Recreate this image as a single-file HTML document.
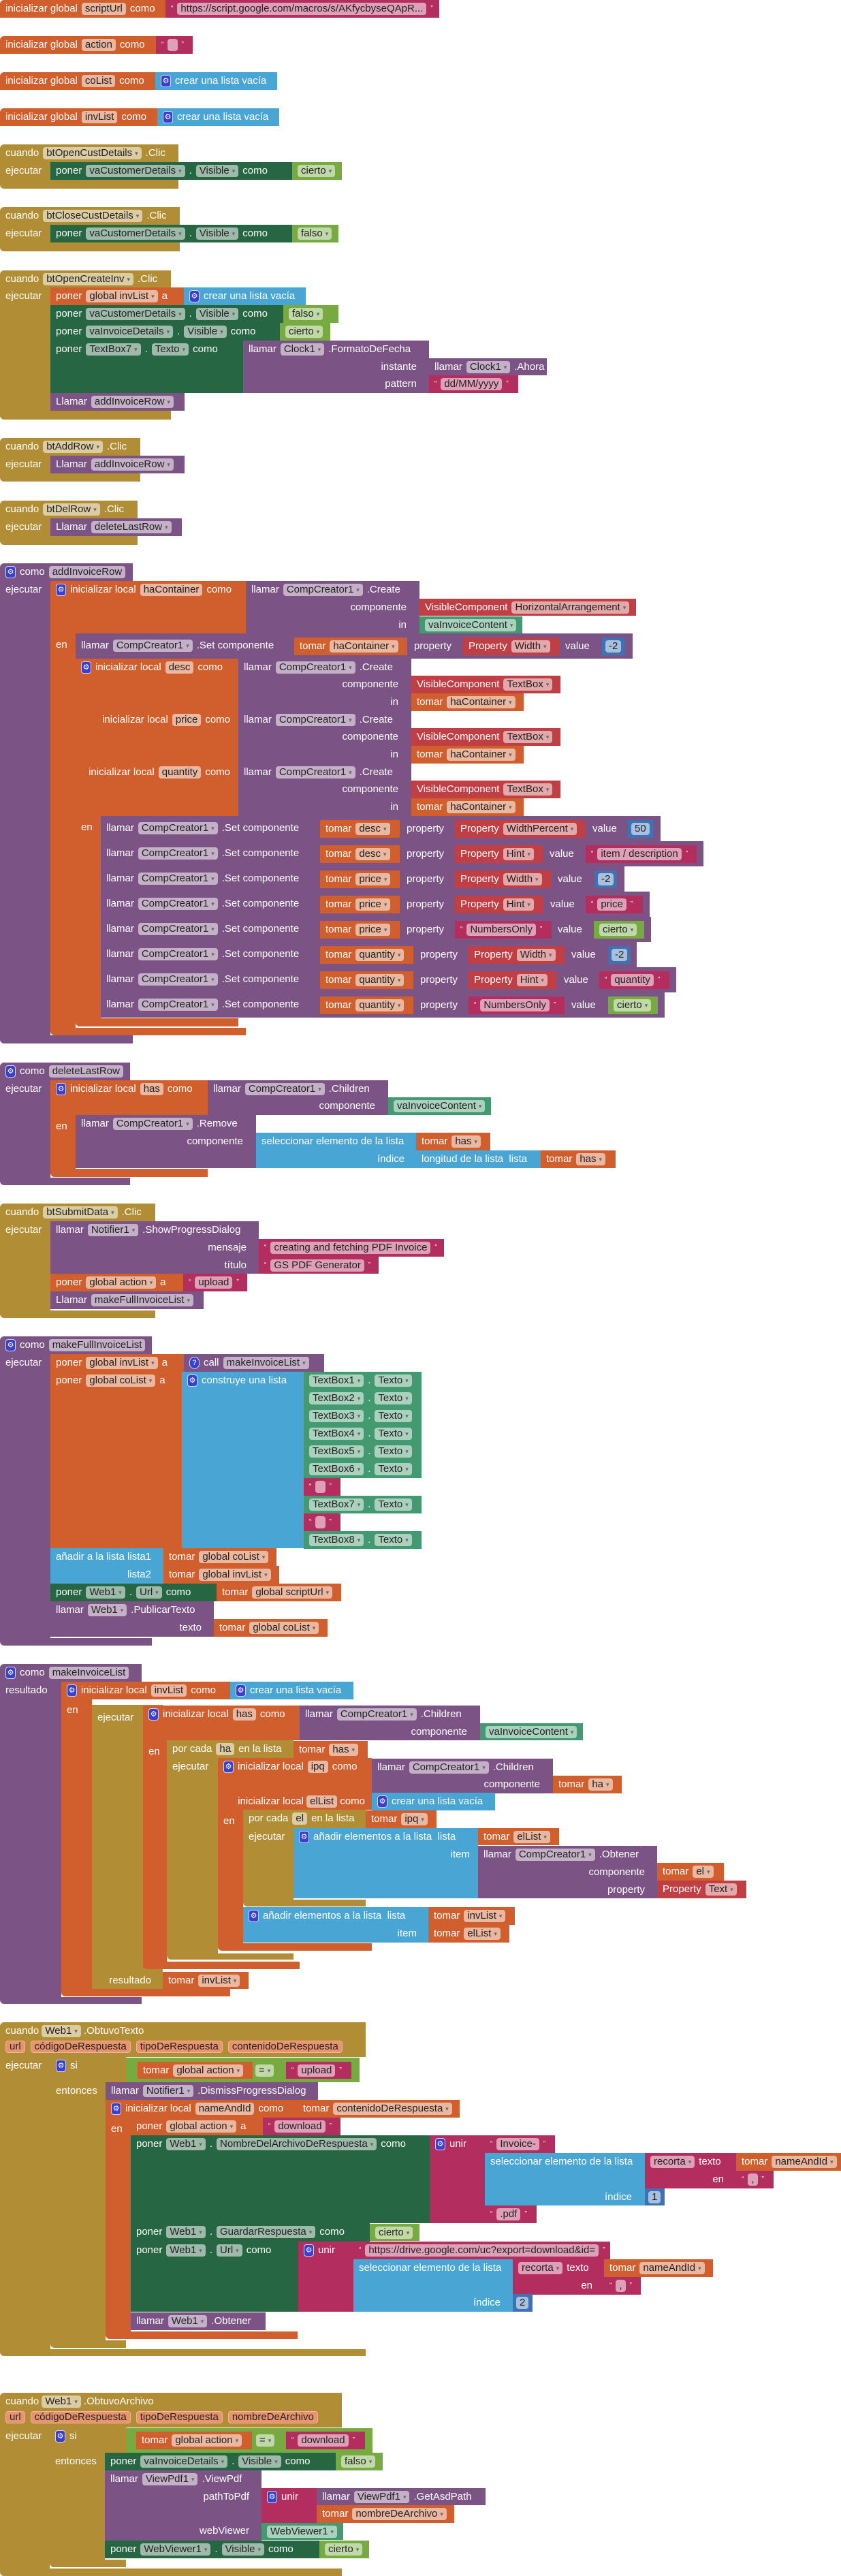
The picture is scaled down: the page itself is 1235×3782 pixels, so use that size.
<!DOCTYPE html>
<html><head><meta charset="utf-8">
<style>
body{margin:0;width:1235px;height:3782px;background:#fff;position:relative;overflow:hidden;font-family:"Liberation Sans",sans-serif}
.b{position:absolute;box-sizing:border-box;display:flex;align-items:flex-start;padding:4px 0 0 8px;gap:6px;white-space:nowrap;overflow:hidden;color:#fff;font:15px/18px "Liberation Sans",sans-serif}
.r37{padding-top:9px}
.jr{justify-content:flex-end;padding-right:12px}
.tx{position:absolute;color:#fff;font:15px/26px "Liberation Sans",sans-serif;text-align:right;white-space:nowrap;width:150px}
.tl{position:absolute;color:#fff;font:15px/26px "Liberation Sans",sans-serif;white-space:nowrap}
i{font-style:normal;background:rgba(255,255,255,.55);color:#222;border-radius:4px;padding:0 5px;display:inline-block;height:18px}
i em{font-style:normal;font-size:9px;color:#666;margin-left:4px;vertical-align:top}
i.op{background:#E8946F;color:#222;border:1px solid #f0b49a;height:16px;line-height:16px}
.ic{display:inline-block;width:15px;height:18px;border-radius:4px;background:#3A3FD0;color:#fff;font-size:11px;line-height:16px;text-align:center;border:1px solid #cfd4ff;box-sizing:border-box}
.q{font-size:10px;vertical-align:top}
.o{background:#D05F2D}.m{background:#B32D5E}.bl{background:#49A6D4}.g{background:#B18E35}
.dg{background:#266643}.lg{background:#77AB41}.pu{background:#7C5385}.r{background:#BF3F44}
.t{background:#439970}.mb{background:#3F71B5}
.rb{border-radius:0 0 0 6px}.rt{border-radius:6px 0 0 0}
</style></head><body>

<!-- globals -->
<div class="b o rt" style="left:0;top:0;width:243px;height:26px">inicializar global <i>scriptUrl</i> como</div>
<div class="b m" style="left:243px;top:0;width:402px;height:26px"><span class="q">“</span><i>https://script.google.com/macros/s/AKfycbyseQApR...</i><span class="q">”</span></div>
<div class="b o rt" style="left:0;top:53px;width:229px;height:26px">inicializar global <i>action</i> como</div>
<div class="b m" style="left:229px;top:53px;width:54px;height:26px"><span class="q">“</span><i>&nbsp;</i><span class="q">”</span></div>
<div class="b o rt" style="left:0;top:106px;width:228px;height:26px">inicializar global <i>coList</i> como</div>
<div class="b bl" style="left:228px;top:106px;width:179px;height:26px"><span class="ic">⚙</span>crear una lista vacía</div>
<div class="b o rt" style="left:0;top:159px;width:231px;height:26px">inicializar global <i>invList</i> como</div>
<div class="b bl" style="left:231px;top:159px;width:179px;height:26px"><span class="ic">⚙</span>crear una lista vacía</div>

<!-- btOpenCustDetails -->
<div class="b g rt" style="left:0;top:212px;width:262px;height:26px">cuando <i>btOpenCustDetails<em>▾</em></i> .Clic</div>
<div class="b g" style="left:0;top:238px;width:74px;height:26px">ejecutar</div>
<div class="b g rb" style="left:0;top:264px;width:262px;height:13px"></div>
<div class="b dg" style="left:74px;top:238px;width:355px;height:26px">poner <i>vaCustomerDetails<em>▾</em></i> . <i>Visible<em>▾</em></i> como</div>
<div class="b lg" style="left:429px;top:238px;width:73px;height:26px"><i>cierto<em>▾</em></i></div>

<!-- btCloseCustDetails -->
<div class="b g rt" style="left:0;top:304px;width:264px;height:26px">cuando <i>btCloseCustDetails<em>▾</em></i> .Clic</div>
<div class="b g" style="left:0;top:330px;width:74px;height:26px">ejecutar</div>
<div class="b g rb" style="left:0;top:356px;width:264px;height:13px"></div>
<div class="b dg" style="left:74px;top:330px;width:355px;height:26px">poner <i>vaCustomerDetails<em>▾</em></i> . <i>Visible<em>▾</em></i> como</div>
<div class="b lg" style="left:429px;top:330px;width:68px;height:26px"><i>falso<em>▾</em></i></div>

<!-- btOpenCreateInv -->
<div class="b g rt" style="left:0;top:397px;width:251px;height:25px">cuando <i>btOpenCreateInv<em>▾</em></i> .Clic</div>
<div class="b g" style="left:0;top:422px;width:74px;height:181px">ejecutar</div>
<div class="b g rb" style="left:0;top:603px;width:251px;height:13px"></div>
<div class="b o" style="left:74px;top:422px;width:196px;height:26px">poner <i>global invList<em>▾</em></i> a</div>
<div class="b bl" style="left:270px;top:422px;width:179px;height:26px"><span class="ic">⚙</span>crear una lista vacía</div>
<div class="b dg" style="left:74px;top:448px;width:342px;height:26px">poner <i>vaCustomerDetails<em>▾</em></i> . <i>Visible<em>▾</em></i> como</div>
<div class="b lg" style="left:416px;top:448px;width:81px;height:26px"><i>falso<em>▾</em></i></div>
<div class="b dg" style="left:74px;top:474px;width:337px;height:26px">poner <i>vaInvoiceDetails<em>▾</em></i> . <i>Visible<em>▾</em></i> como</div>
<div class="b lg" style="left:411px;top:474px;width:74px;height:26px"><i>cierto<em>▾</em></i></div>
<div class="b dg" style="left:74px;top:500px;width:283px;height:77px">poner <i>TextBox7<em>▾</em></i> . <i>Texto<em>▾</em></i> como</div>
<div class="b pu" style="left:357px;top:500px;width:273px;height:77px">llamar <i>Clock1<em>▾</em></i> .FormatoDeFecha</div>
<div class="tx" style="left:462px;top:526px">instante</div>
<div class="tx" style="left:462px;top:551px">pattern</div>
<div class="b pu" style="left:630px;top:526px;width:173px;height:25px">llamar <i>Clock1<em>▾</em></i> .Ahora</div>
<div class="b m" style="left:630px;top:551px;width:131px;height:26px"><span class="q">“</span><i>dd/MM/yyyy</i><span class="q">”</span></div>
<div class="b pu" style="left:74px;top:577px;width:197px;height:26px">Llamar <i>addInvoiceRow<em>▾</em></i></div>

<!-- btAddRow -->
<div class="b g rt" style="left:0;top:643px;width:206px;height:26px">cuando <i>btAddRow<em>▾</em></i> .Clic</div>
<div class="b g" style="left:0;top:669px;width:74px;height:26px">ejecutar</div>
<div class="b g rb" style="left:0;top:695px;width:206px;height:12px"></div>
<div class="b pu" style="left:74px;top:669px;width:197px;height:26px">Llamar <i>addInvoiceRow<em>▾</em></i></div>

<!-- btDelRow -->
<div class="b g rt" style="left:0;top:735px;width:202px;height:26px">cuando <i>btDelRow<em>▾</em></i> .Clic</div>
<div class="b g" style="left:0;top:761px;width:74px;height:26px">ejecutar</div>
<div class="b g rb" style="left:0;top:787px;width:202px;height:13px"></div>
<div class="b pu" style="left:74px;top:761px;width:193px;height:26px">Llamar <i>deleteLastRow<em>▾</em></i></div>

<!-- addInvoiceRow -->
<div class="b pu rt" style="left:0;top:827px;width:195px;height:26px"><span class="ic">⚙</span>como <i>addInvoiceRow</i></div>
<div class="b pu" style="left:0;top:853px;width:74px;height:667px">ejecutar</div>
<div class="b pu rb" style="left:0;top:1520px;width:195px;height:12px"></div>
<div class="b o" style="left:74px;top:853px;width:287px;height:77px"><span class="ic">⚙</span>inicializar local <i>haContainer</i> como</div>
<div class="b o" style="left:74px;top:930px;width:37px;height:579px;padding-top:8px">en</div>
<div class="b o rb" style="left:74px;top:1509px;width:287px;height:11px"></div>
<div class="b pu" style="left:361px;top:853px;width:255px;height:77px">llamar <i>CompCreator1<em>▾</em></i> .Create</div>
<div class="tx" style="left:447px;top:879px">componente</div>
<div class="tx" style="left:447px;top:905px">in</div>
<div class="b r" style="left:616px;top:879px;width:318px;height:25px">VisibleComponent <i>HorizontalArrangement<em>▾</em></i></div>
<div class="b t" style="left:616px;top:905px;width:151px;height:25px"><i>vaInvoiceContent<em>▾</em></i></div>
<div class="b pu r37" style="left:111px;top:930px;width:818px;height:37px">llamar <i>CompCreator1<em>▾</em></i> .Set componente</div>
<div class="b o" style="left:432px;top:936px;width:166px;height:26px">tomar <i>haContainer<em>▾</em></i></div>
<div class="tl" style="left:608px;top:936px">property</div>
<div class="b r" style="left:680px;top:936px;width:141px;height:26px">Property <i>Width<em>▾</em></i></div>
<div class="tl" style="left:830px;top:936px">value</div>
<div class="b mb" style="left:884px;top:936px;width:33px;height:26px;padding-left:5px"><i>-2</i></div>

<div class="b o" style="left:111px;top:967px;width:239px;height:77px"><span class="ic">⚙</span>inicializar local <i>desc</i> como</div>
<div class="b o jr" style="left:111px;top:1044px;width:239px;height:77px">inicializar local <i>price</i> como</div>
<div class="b o jr" style="left:111px;top:1121px;width:239px;height:77px">inicializar local <i>quantity</i> como</div>
<div class="b o" style="left:111px;top:1198px;width:37px;height:297px;padding-top:8px">en</div>
<div class="b o rb" style="left:111px;top:1495px;width:239px;height:12px"></div>

<div class="b pu" style="left:350px;top:967px;width:254px;height:77px">llamar <i>CompCreator1<em>▾</em></i> .Create</div>
<div class="tx" style="left:435px;top:992px">componente</div><div class="tx" style="left:435px;top:1018px">in</div>
<div class="b r" style="left:604px;top:992px;width:219px;height:26px">VisibleComponent <i>TextBox<em>▾</em></i></div>
<div class="b o" style="left:604px;top:1018px;width:165px;height:26px">tomar <i>haContainer<em>▾</em></i></div>
<div class="b pu" style="left:350px;top:1044px;width:254px;height:77px">llamar <i>CompCreator1<em>▾</em></i> .Create</div>
<div class="tx" style="left:435px;top:1069px">componente</div><div class="tx" style="left:435px;top:1095px">in</div>
<div class="b r" style="left:604px;top:1069px;width:219px;height:26px">VisibleComponent <i>TextBox<em>▾</em></i></div>
<div class="b o" style="left:604px;top:1095px;width:165px;height:26px">tomar <i>haContainer<em>▾</em></i></div>
<div class="b pu" style="left:350px;top:1121px;width:254px;height:77px">llamar <i>CompCreator1<em>▾</em></i> .Create</div>
<div class="tx" style="left:435px;top:1146px">componente</div><div class="tx" style="left:435px;top:1172px">in</div>
<div class="b r" style="left:604px;top:1146px;width:219px;height:26px">VisibleComponent <i>TextBox<em>▾</em></i></div>
<div class="b o" style="left:604px;top:1172px;width:165px;height:26px">tomar <i>haContainer<em>▾</em></i></div>

<!-- set rows -->
<div class="b pu r37" style="left:148px;top:1198px;width:822px;height:37px">llamar <i>CompCreator1<em>▾</em></i> .Set componente</div>
<div class="b o" style="left:470px;top:1204px;width:117px;height:26px">tomar <i>desc<em>▾</em></i></div>
<div class="tl" style="left:597px;top:1204px">property</div>
<div class="b r" style="left:668px;top:1204px;width:191px;height:26px">Property <i>WidthPercent<em>▾</em></i></div>
<div class="tl" style="left:870px;top:1204px">value</div>
<div class="b mb" style="left:922px;top:1204px;width:37px;height:26px;padding-left:5px"><i>50</i></div>

<div class="b pu r37" style="left:148px;top:1235px;width:885px;height:37px">llamar <i>CompCreator1<em>▾</em></i> .Set componente</div>
<div class="b o" style="left:470px;top:1241px;width:117px;height:26px">tomar <i>desc<em>▾</em></i></div>
<div class="tl" style="left:597px;top:1241px">property</div>
<div class="b r" style="left:668px;top:1241px;width:129px;height:26px">Property <i>Hint<em>▾</em></i></div>
<div class="tl" style="left:807px;top:1241px">value</div>
<div class="b m" style="left:860px;top:1241px;width:163px;height:26px"><span class="q">“</span><i>item / description</i><span class="q">”</span></div>

<div class="b pu r37" style="left:148px;top:1272px;width:769px;height:37px">llamar <i>CompCreator1<em>▾</em></i> .Set componente</div>
<div class="b o" style="left:470px;top:1278px;width:117px;height:26px">tomar <i>price<em>▾</em></i></div>
<div class="tl" style="left:597px;top:1278px">property</div>
<div class="b r" style="left:668px;top:1278px;width:142px;height:26px">Property <i>Width<em>▾</em></i></div>
<div class="tl" style="left:819px;top:1278px">value</div>
<div class="b mb" style="left:873px;top:1278px;width:33px;height:26px;padding-left:5px"><i>-2</i></div>

<div class="b pu r37" style="left:148px;top:1309px;width:806px;height:37px">llamar <i>CompCreator1<em>▾</em></i> .Set componente</div>
<div class="b o" style="left:470px;top:1315px;width:117px;height:26px">tomar <i>price<em>▾</em></i></div>
<div class="tl" style="left:597px;top:1315px">property</div>
<div class="b r" style="left:668px;top:1315px;width:130px;height:26px">Property <i>Hint<em>▾</em></i></div>
<div class="tl" style="left:808px;top:1315px">value</div>
<div class="b m" style="left:860px;top:1315px;width:84px;height:26px"><span class="q">“</span><i>price</i><span class="q">”</span></div>

<div class="b pu r37" style="left:148px;top:1346px;width:808px;height:37px">llamar <i>CompCreator1<em>▾</em></i> .Set componente</div>
<div class="b o" style="left:470px;top:1352px;width:117px;height:26px">tomar <i>price<em>▾</em></i></div>
<div class="tl" style="left:597px;top:1352px">property</div>
<div class="b m" style="left:668px;top:1352px;width:142px;height:26px"><span class="q">“</span><i>NumbersOnly</i><span class="q">”</span></div>
<div class="tl" style="left:819px;top:1352px">value</div>
<div class="b lg" style="left:872px;top:1352px;width:74px;height:26px"><i>cierto<em>▾</em></i></div>

<div class="b pu r37" style="left:148px;top:1383px;width:787px;height:37px">llamar <i>CompCreator1<em>▾</em></i> .Set componente</div>
<div class="b o" style="left:470px;top:1389px;width:137px;height:26px">tomar <i>quantity<em>▾</em></i></div>
<div class="tl" style="left:617px;top:1389px">property</div>
<div class="b r" style="left:688px;top:1389px;width:141px;height:26px">Property <i>Width<em>▾</em></i></div>
<div class="tl" style="left:839px;top:1389px">value</div>
<div class="b mb" style="left:893px;top:1389px;width:33px;height:26px;padding-left:5px"><i>-2</i></div>

<div class="b pu r37" style="left:148px;top:1420px;width:845px;height:37px">llamar <i>CompCreator1<em>▾</em></i> .Set componente</div>
<div class="b o" style="left:470px;top:1426px;width:137px;height:26px">tomar <i>quantity<em>▾</em></i></div>
<div class="tl" style="left:617px;top:1426px">property</div>
<div class="b r" style="left:688px;top:1426px;width:130px;height:26px">Property <i>Hint<em>▾</em></i></div>
<div class="tl" style="left:828px;top:1426px">value</div>
<div class="b m" style="left:880px;top:1426px;width:103px;height:26px"><span class="q">“</span><i>quantity</i><span class="q">”</span></div>

<div class="b pu r37" style="left:148px;top:1457px;width:828px;height:37px">llamar <i>CompCreator1<em>▾</em></i> .Set componente</div>
<div class="b o" style="left:470px;top:1463px;width:137px;height:26px">tomar <i>quantity<em>▾</em></i></div>
<div class="tl" style="left:617px;top:1463px">property</div>
<div class="b m" style="left:688px;top:1463px;width:141px;height:26px"><span class="q">“</span><i>NumbersOnly</i><span class="q">”</span></div>
<div class="tl" style="left:839px;top:1463px">value</div>
<div class="b lg" style="left:893px;top:1463px;width:73px;height:26px"><i>cierto<em>▾</em></i></div>

<!-- deleteLastRow -->
<div class="b pu rt" style="left:0;top:1560px;width:191px;height:26px"><span class="ic">⚙</span>como <i>deleteLastRow</i></div>
<div class="b pu" style="left:0;top:1586px;width:74px;height:143px">ejecutar</div>
<div class="b pu rb" style="left:0;top:1729px;width:191px;height:11px"></div>
<div class="b o" style="left:74px;top:1586px;width:231px;height:51px"><span class="ic">⚙</span>inicializar local <i>has</i> como</div>
<div class="b o" style="left:74px;top:1637px;width:37px;height:79px;padding-top:8px">en</div>
<div class="b o rb" style="left:74px;top:1716px;width:231px;height:12px"></div>
<div class="b pu" style="left:305px;top:1586px;width:265px;height:51px">llamar <i>CompCreator1<em>▾</em></i> .Children</div>
<div class="tx" style="left:401px;top:1611px">componente</div>
<div class="b t" style="left:570px;top:1611px;width:151px;height:26px"><i>vaInvoiceContent<em>▾</em></i></div>
<div class="b pu" style="left:111px;top:1637px;width:265px;height:78px">llamar <i>CompCreator1<em>▾</em></i> .Remove</div>
<div class="tx" style="left:207px;top:1663px">componente</div>
<div class="b bl" style="left:376px;top:1663px;width:235px;height:52px">seleccionar elemento de la lista</div>
<div class="tx" style="left:444px;top:1689px">índice</div>
<div class="b o" style="left:611px;top:1663px;width:109px;height:26px">tomar <i>has<em>▾</em></i></div>
<div class="b bl" style="left:611px;top:1689px;width:183px;height:26px">longitud de la lista &nbsp;lista</div>
<div class="b o" style="left:794px;top:1689px;width:110px;height:26px">tomar <i>has<em>▾</em></i></div>

<!-- btSubmitData -->
<div class="b g rt" style="left:0;top:1767px;width:228px;height:26px">cuando <i>btSubmitData<em>▾</em></i> .Clic</div>
<div class="b g" style="left:0;top:1793px;width:74px;height:131px">ejecutar</div>
<div class="b g rb" style="left:0;top:1924px;width:228px;height:11px"></div>
<div class="b pu" style="left:74px;top:1793px;width:306px;height:77px">llamar <i>Notifier1<em>▾</em></i> .ShowProgressDialog</div>
<div class="tx" style="left:212px;top:1819px">mensaje</div>
<div class="tx" style="left:212px;top:1845px">título</div>
<div class="b m" style="left:380px;top:1819px;width:272px;height:26px"><span class="q">“</span><i>creating and fetching PDF Invoice</i><span class="q">”</span></div>
<div class="b m" style="left:380px;top:1845px;width:176px;height:25px"><span class="q">“</span><i>GS PDF Generator</i><span class="q">”</span></div>
<div class="b o" style="left:74px;top:1870px;width:195px;height:26px">poner <i>global action<em>▾</em></i> a</div>
<div class="b m" style="left:269px;top:1870px;width:94px;height:26px"><span class="q">“</span><i>upload</i><span class="q">”</span></div>
<div class="b pu" style="left:74px;top:1896px;width:225px;height:26px">Llamar <i>makeFullInvoiceList<em>▾</em></i></div>

<!-- makeFullInvoiceList -->
<div class="b pu rt" style="left:0;top:1962px;width:223px;height:26px"><span class="ic">⚙</span>como <i>makeFullInvoiceList</i></div>
<div class="b pu" style="left:0;top:1988px;width:74px;height:417px">ejecutar</div>
<div class="b pu rb" style="left:0;top:2405px;width:223px;height:11px"></div>
<div class="b o" style="left:74px;top:1988px;width:196px;height:26px">poner <i>global invList<em>▾</em></i> a</div>
<div class="b pu" style="left:270px;top:1988px;width:206px;height:26px"><span class="ic" style="border-radius:9px">?</span>call <i>makeInvoiceList<em>▾</em></i></div>
<div class="b o" style="left:74px;top:2014px;width:193px;height:259px">poner <i>global coList<em>▾</em></i> a</div>
<div class="b bl" style="left:267px;top:2014px;width:179px;height:259px"><span class="ic">⚙</span>construye una lista</div>
<div class="b t" style="left:446px;top:2014px;width:173px;height:26px"><i>TextBox1<em>▾</em></i> . <i>Texto<em>▾</em></i></div>
<div class="b t" style="left:446px;top:2040px;width:173px;height:26px"><i>TextBox2<em>▾</em></i> . <i>Texto<em>▾</em></i></div>
<div class="b t" style="left:446px;top:2066px;width:173px;height:26px"><i>TextBox3<em>▾</em></i> . <i>Texto<em>▾</em></i></div>
<div class="b t" style="left:446px;top:2092px;width:173px;height:26px"><i>TextBox4<em>▾</em></i> . <i>Texto<em>▾</em></i></div>
<div class="b t" style="left:446px;top:2118px;width:173px;height:26px"><i>TextBox5<em>▾</em></i> . <i>Texto<em>▾</em></i></div>
<div class="b t" style="left:446px;top:2144px;width:173px;height:26px"><i>TextBox6<em>▾</em></i> . <i>Texto<em>▾</em></i></div>
<div class="b m" style="left:446px;top:2170px;width:54px;height:26px"><span class="q">“</span><i>&nbsp;</i><span class="q">”</span></div>
<div class="b t" style="left:446px;top:2196px;width:173px;height:26px"><i>TextBox7<em>▾</em></i> . <i>Texto<em>▾</em></i></div>
<div class="b m" style="left:446px;top:2222px;width:54px;height:26px"><span class="q">“</span><i>&nbsp;</i><span class="q">”</span></div>
<div class="b t" style="left:446px;top:2248px;width:173px;height:26px"><i>TextBox8<em>▾</em></i> . <i>Texto<em>▾</em></i></div>
<div class="b bl" style="left:74px;top:2273px;width:166px;height:52px">añadir a la lista lista1</div>
<div class="tx" style="left:72px;top:2299px">lista2</div>
<div class="b o" style="left:240px;top:2273px;width:166px;height:26px">tomar <i>global coList<em>▾</em></i></div>
<div class="b o" style="left:240px;top:2299px;width:170px;height:26px">tomar <i>global invList<em>▾</em></i></div>
<div class="b dg" style="left:74px;top:2325px;width:244px;height:26px">poner <i>Web1<em>▾</em></i> . <i>Url<em>▾</em></i> como</div>
<div class="b o" style="left:318px;top:2325px;width:183px;height:26px">tomar <i>global scriptUrl<em>▾</em></i></div>
<div class="b pu" style="left:74px;top:2351px;width:240px;height:52px">llamar <i>Web1<em>▾</em></i> .PublicarTexto</div>
<div class="tx" style="left:146px;top:2377px">texto</div>
<div class="b o" style="left:314px;top:2377px;width:167px;height:26px">tomar <i>global coList<em>▾</em></i></div>

<!-- makeInvoiceList -->
<div class="b pu rt" style="left:0;top:2443px;width:208px;height:26px"><span class="ic">⚙</span>como <i>makeInvoiceList</i></div>
<div class="b pu" style="left:0;top:2469px;width:90px;height:463px">resultado</div>
<div class="b pu rb" style="left:0;top:2932px;width:208px;height:10px"></div>
<div class="b o" style="left:90px;top:2469px;width:248px;height:26px"><span class="ic">⚙</span>inicializar local <i>invList</i> como</div>
<div class="b bl" style="left:338px;top:2469px;width:181px;height:26px"><span class="ic">⚙</span>crear una lista vacía</div>
<div class="b o" style="left:90px;top:2494px;width:45px;height:426px;padding-top:8px">en</div>
<div class="b o rb" style="left:90px;top:2920px;width:248px;height:11px"></div>
<div class="b g" style="left:135px;top:2503px;width:104px;height:417px;padding-top:10px">ejecutar</div>
<div class="tx" style="left:72px;top:2895px">resultado</div>
<div class="b o" style="left:239px;top:2895px;width:126px;height:25px">tomar <i>invList<em>▾</em></i></div>
<div class="b o" style="left:210px;top:2504px;width:230px;height:51px"><span class="ic">⚙</span>inicializar local <i>has</i> como</div>
<div class="b o" style="left:210px;top:2555px;width:35px;height:325px;padding-top:8px">en</div>
<div class="b o rb" style="left:210px;top:2880px;width:230px;height:11px"></div>
<div class="b pu" style="left:440px;top:2504px;width:265px;height:51px">llamar <i>CompCreator1<em>▾</em></i> .Children</div>
<div class="tx" style="left:536px;top:2530px">componente</div>
<div class="b t" style="left:705px;top:2530px;width:151px;height:25px"><i>vaInvoiceContent<em>▾</em></i></div>
<div class="b g" style="left:245px;top:2555px;width:186px;height:26px">por cada <i>ha</i> en la lista</div>
<div class="b g" style="left:245px;top:2581px;width:75px;height:287px">ejecutar</div>
<div class="b g rb" style="left:245px;top:2868px;width:186px;height:9px"></div>
<div class="b o" style="left:431px;top:2556px;width:109px;height:26px">tomar <i>has<em>▾</em></i></div>
<div class="b o" style="left:320px;top:2581px;width:226px;height:76px"><span class="ic">⚙</span>inicializar local <i>ipq</i> como</div>
<div class="tx" style="left:346px;top:2632px;width:190px">inicializar local <i style="line-height:18px">elList</i> como</div>
<div class="b o" style="left:320px;top:2657px;width:37px;height:196px;padding-top:8px">en</div>
<div class="b o rb" style="left:320px;top:2853px;width:226px;height:11px"></div>
<div class="b pu" style="left:546px;top:2582px;width:266px;height:51px">llamar <i>CompCreator1<em>▾</em></i> .Children</div>
<div class="tx" style="left:643px;top:2607px">componente</div>
<div class="b o" style="left:812px;top:2607px;width:101px;height:26px">tomar <i>ha<em>▾</em></i></div>
<div class="b bl" style="left:546px;top:2632px;width:181px;height:26px"><span class="ic">⚙</span>crear una lista vacía</div>
<div class="b g" style="left:357px;top:2657px;width:180px;height:27px">por cada <i>el</i> en la lista</div>
<div class="b g" style="left:357px;top:2684px;width:74px;height:105px">ejecutar</div>
<div class="b g rb" style="left:357px;top:2789px;width:180px;height:10px"></div>
<div class="b o" style="left:537px;top:2658px;width:104px;height:26px">tomar <i>ipq<em>▾</em></i></div>
<div class="b bl" style="left:431px;top:2684px;width:271px;height:103px"><span class="ic">⚙</span>añadir elementos a la lista &nbsp;lista</div>
<div class="tx" style="left:540px;top:2710px">item</div>
<div class="b o" style="left:702px;top:2684px;width:119px;height:25px">tomar <i>elList<em>▾</em></i></div>
<div class="b pu" style="left:702px;top:2710px;width:263px;height:77px">llamar <i>CompCreator1<em>▾</em></i> .Obtener</div>
<div class="tx" style="left:797px;top:2736px">componente</div>
<div class="tx" style="left:797px;top:2762px">property</div>
<div class="b o" style="left:965px;top:2735px;width:98px;height:26px">tomar <i>el<em>▾</em></i></div>
<div class="b r" style="left:965px;top:2761px;width:131px;height:26px">Property <i>Text<em>▾</em></i></div>
<div class="b bl" style="left:357px;top:2800px;width:272px;height:52px"><span class="ic">⚙</span>añadir elementos a la lista &nbsp;lista</div>
<div class="tx" style="left:462px;top:2826px">item</div>
<div class="b o" style="left:629px;top:2800px;width:127px;height:26px">tomar <i>invList<em>▾</em></i></div>
<div class="b o" style="left:629px;top:2826px;width:119px;height:26px">tomar <i>elList<em>▾</em></i></div>

<!-- Web1.ObtuvoTexto -->
<div class="b g rt" style="left:0;top:2969px;width:537px;height:51px;flex-direction:column;gap:5px">
 <div>cuando <i>Web1<em>▾</em></i> .ObtuvoTexto</div>
 <div style="display:flex;gap:8px"><i class="op">url</i><i class="op">códigoDeRespuesta</i><i class="op">tipoDeRespuesta</i><i class="op">contenidoDeRespuesta</i></div>
</div>
<div class="b g" style="left:0;top:3020px;width:74px;height:429px">ejecutar</div>
<div class="b g rb" style="left:0;top:3449px;width:537px;height:10px"></div>
<div class="b g" style="left:74px;top:3020px;width:111px;height:37px"><span class="ic">⚙</span>si</div>
<div class="b g" style="left:74px;top:3057px;width:81px;height:379px">entonces</div>
<div class="b g rb" style="left:74px;top:3436px;width:111px;height:11px"></div>
<div class="b lg" style="left:185px;top:3021px;width:343px;height:36px"></div>
<div class="b o" style="left:202px;top:3027px;width:169px;height:25px">tomar <i>global action<em>▾</em></i></div>
<div class="b lg" style="left:371px;top:3027px;width:40px;height:25px;padding-left:4px"><i>=<em>▾</em></i></div>
<div class="b m" style="left:420px;top:3027px;width:96px;height:25px"><span class="q">“</span><i>upload</i><span class="q">”</span></div>
<div class="b pu" style="left:155px;top:3057px;width:312px;height:26px">llamar <i>Notifier1<em>▾</em></i> .DismissProgressDialog</div>
<div class="b o" style="left:155px;top:3083px;width:282px;height:26px"><span class="ic">⚙</span>inicializar local <i>nameAndId</i> como</div>
<div class="b o" style="left:437px;top:3083px;width:238px;height:26px">tomar <i>contenidoDeRespuesta<em>▾</em></i></div>
<div class="b o" style="left:155px;top:3109px;width:37px;height:314px;padding-top:8px">en</div>
<div class="b o rb" style="left:155px;top:3423px;width:282px;height:11px"></div>
<div class="b o" style="left:192px;top:3109px;width:194px;height:26px">poner <i>global action<em>▾</em></i> a</div>
<div class="b m" style="left:386px;top:3109px;width:114px;height:26px"><span class="q">“</span><i>download</i><span class="q">”</span></div>
<div class="b dg" style="left:192px;top:3135px;width:439px;height:129px">poner <i>Web1<em>▾</em></i> . <i>NombreDelArchivoDeRespuesta<em>▾</em></i> como</div>
<div class="b m" style="left:631px;top:3135px;width:81px;height:129px"><span class="ic">⚙</span>unir</div>
<div class="b m" style="left:712px;top:3135px;width:103px;height:26px"><span class="q">“</span><i>Invoice-</i><span class="q">”</span></div>
<div class="b bl" style="left:712px;top:3161px;width:235px;height:77px">seleccionar elemento de la lista</div>
<div class="tx" style="left:778px;top:3213px">índice</div>
<div class="b m" style="left:947px;top:3161px;width:134px;height:52px"><i>recorta<em>▾</em></i> texto</div>
<div class="tx" style="left:913px;top:3187px">en</div>
<div class="b o" style="left:1081px;top:3161px;width:160px;height:26px">tomar <i>nameAndId<em>▾</em></i></div>
<div class="b m" style="left:1081px;top:3187px;width:55px;height:26px"><span class="q">“</span><i>,</i><span class="q">”</span></div>
<div class="b mb" style="left:947px;top:3213px;width:29px;height:25px;padding-left:5px"><i>1</i></div>
<div class="b m" style="left:712px;top:3238px;width:76px;height:26px"><span class="q">“</span><i>.pdf</i><span class="q">”</span></div>
<div class="b dg" style="left:192px;top:3264px;width:351px;height:27px">poner <i>Web1<em>▾</em></i> . <i>GuardarRespuesta<em>▾</em></i> como</div>
<div class="b lg" style="left:543px;top:3265px;width:73px;height:25px"><i>cierto<em>▾</em></i></div>
<div class="b dg" style="left:192px;top:3291px;width:246px;height:103px">poner <i>Web1<em>▾</em></i> . <i>Url<em>▾</em></i> como</div>
<div class="b m" style="left:438px;top:3291px;width:81px;height:103px"><span class="ic">⚙</span>unir</div>
<div class="b m" style="left:519px;top:3291px;width:377px;height:26px"><span class="q">“</span><i>https://drive.google.com/uc?export=download&amp;id=</i><span class="q">”</span></div>
<div class="b bl" style="left:519px;top:3317px;width:234px;height:77px">seleccionar elemento de la lista</div>
<div class="tx" style="left:585px;top:3368px">índice</div>
<div class="b m" style="left:753px;top:3317px;width:134px;height:52px"><i>recorta<em>▾</em></i> texto</div>
<div class="tx" style="left:720px;top:3343px">en</div>
<div class="b o" style="left:887px;top:3317px;width:160px;height:26px">tomar <i>nameAndId<em>▾</em></i></div>
<div class="b m" style="left:887px;top:3343px;width:54px;height:26px"><span class="q">“</span><i>,</i><span class="q">”</span></div>
<div class="b mb" style="left:753px;top:3368px;width:29px;height:26px;padding-left:5px"><i>2</i></div>
<div class="b pu" style="left:192px;top:3395px;width:198px;height:26px">llamar <i>Web1<em>▾</em></i> .Obtener</div>

<!-- Web1.ObtuvoArchivo -->
<div class="b g rt" style="left:0;top:3513px;width:502px;height:51px;flex-direction:column;gap:5px">
 <div>cuando <i>Web1<em>▾</em></i> .ObtuvoArchivo</div>
 <div style="display:flex;gap:8px"><i class="op">url</i><i class="op">códigoDeRespuesta</i><i class="op">tipoDeRespuesta</i><i class="op">nombreDeArchivo</i></div>
</div>
<div class="b g" style="left:0;top:3564px;width:73px;height:207px">ejecutar</div>
<div class="b g rb" style="left:0;top:3771px;width:502px;height:11px"></div>
<div class="b g" style="left:73px;top:3564px;width:112px;height:37px"><span class="ic">⚙</span>si</div>
<div class="b g" style="left:73px;top:3601px;width:81px;height:157px">entonces</div>
<div class="b g rb" style="left:73px;top:3758px;width:112px;height:11px"></div>
<div class="b lg" style="left:185px;top:3565px;width:362px;height:36px"></div>
<div class="b o" style="left:200px;top:3570px;width:170px;height:26px">tomar <i>global action<em>▾</em></i></div>
<div class="b lg" style="left:372px;top:3570px;width:40px;height:26px;padding-left:4px"><i>=<em>▾</em></i></div>
<div class="b m" style="left:420px;top:3570px;width:116px;height:26px"><span class="q">“</span><i>download</i><span class="q">”</span></div>
<div class="b dg" style="left:154px;top:3601px;width:339px;height:26px">poner <i>vaInvoiceDetails<em>▾</em></i> . <i>Visible<em>▾</em></i> como</div>
<div class="b lg" style="left:493px;top:3601px;width:69px;height:26px"><i>falso<em>▾</em></i></div>
<div class="b pu" style="left:154px;top:3627px;width:230px;height:103px">llamar <i>ViewPdf1<em>▾</em></i> .ViewPdf</div>
<div class="tx" style="left:216px;top:3653px">pathToPdf</div>
<div class="tx" style="left:216px;top:3703px">webViewer</div>
<div class="b m" style="left:384px;top:3653px;width:81px;height:51px"><span class="ic">⚙</span>unir</div>
<div class="b pu" style="left:465px;top:3653px;width:248px;height:25px">llamar <i>ViewPdf1<em>▾</em></i> .GetAsdPath</div>
<div class="b o" style="left:465px;top:3678px;width:202px;height:26px">tomar <i>nombreDeArchivo<em>▾</em></i></div>
<div class="b t" style="left:384px;top:3704px;width:120px;height:25px"><i>WebViewer1<em>▾</em></i></div>
<div class="b dg" style="left:154px;top:3730px;width:315px;height:26px">poner <i>WebViewer1<em>▾</em></i> . <i>Visible<em>▾</em></i> como</div>
<div class="b lg" style="left:469px;top:3730px;width:73px;height:26px"><i>cierto<em>▾</em></i></div>

</body></html>
